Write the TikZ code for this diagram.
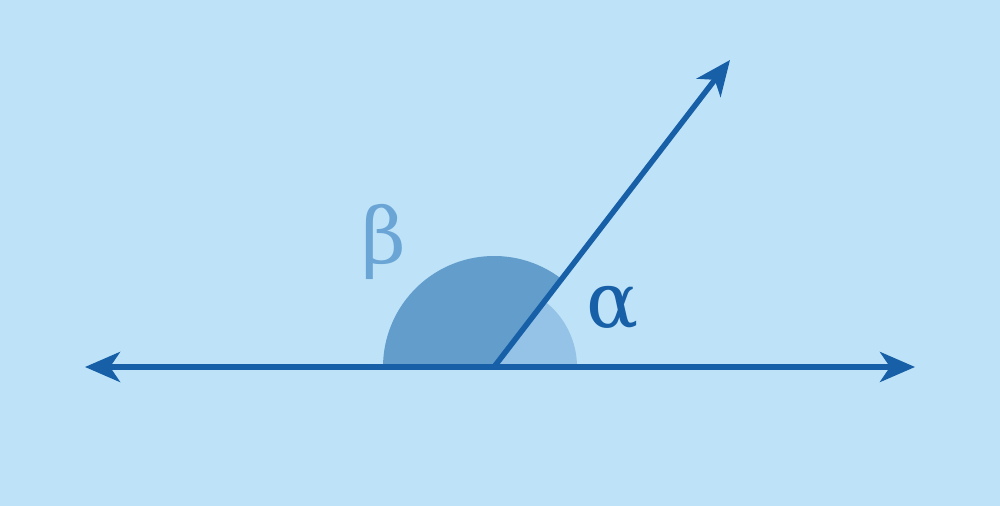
\documentclass[tikz,border=0pt]{standalone}
\usepackage{fontspec}
\setmainfont{DejaVu Serif}
\usetikzlibrary{arrows.meta}
\definecolor{bgblue}{HTML}{BEE3F8}
\definecolor{lineblue}{HTML}{175FA7}
\definecolor{betafill}{HTML}{629DCB}
\definecolor{alphafill}{HTML}{95C3E7}
\definecolor{betatext}{HTML}{6AA5D5}
\tikzset{
	ray/.style={draw=lineblue,line width=0.55mm},
	tip/.tip={Stealth[length=3.5mm,width=3mm,inset=1mm]},
	greek/.style={font=\fontsize{22}{22}\selectfont,inner sep=0pt}
}
\begin{document}
\begin{tikzpicture}
		\fill[bgblue] (0,0) rectangle (10,5.06);
		\coordinate (O) at (4.94,1.39);
		\coordinate (L) at (0.85,1.39);
		\coordinate (R) at (9.15,1.39);
		\coordinate (P) at (7.30,4.46);
		\fill[betafill] (O) -- ++(52.4:1.11) arc (52.4:180:1.11) -- cycle;
		\fill[alphafill] (O) -- ++(0.83,0) arc (0:52.4:0.83) -- cycle;
		\draw[ray,tip-tip] (L) -- (R);
		\draw[ray,-tip] (O) -- (P);
		\node[greek,text=betatext] (beta) at (3.84,2.64) {β};
		\node[greek,text=lineblue] (alpha) at (6.13,1.98) {α};
	\end{tikzpicture}
\end{document}
